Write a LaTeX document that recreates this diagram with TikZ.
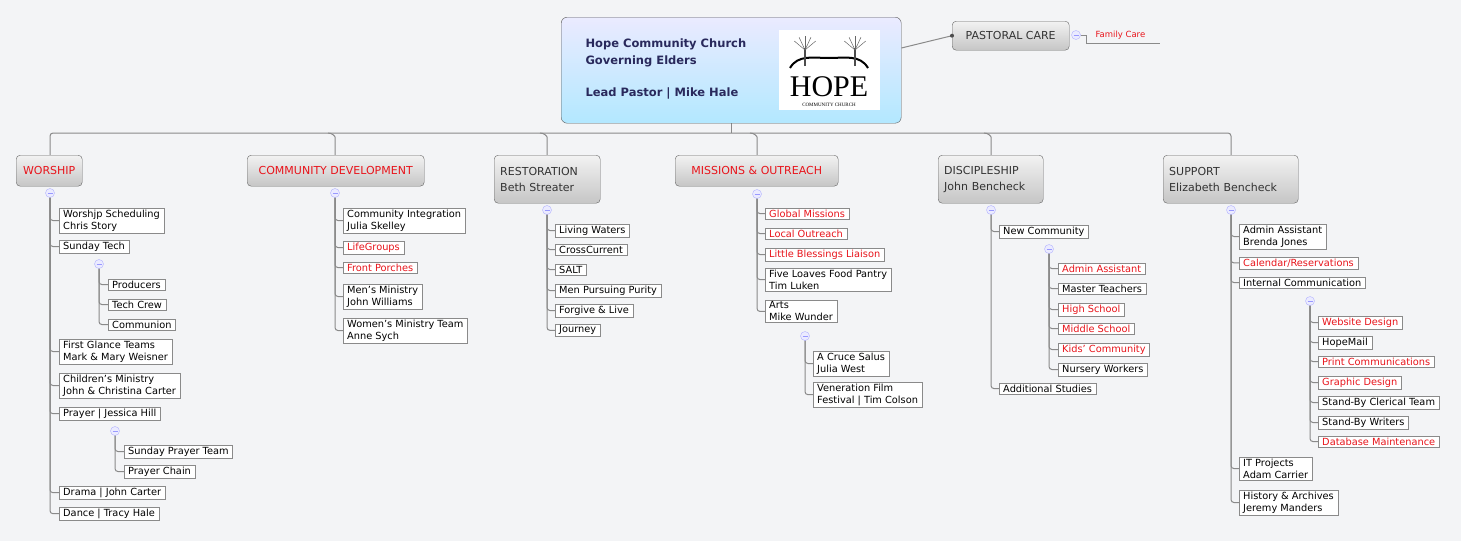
\documentclass[tikz,border=0pt]{standalone}
\usepackage{fontspec}
\setmainfont{DejaVu Sans}
\usetikzlibrary{calc}
\definecolor{bg}{HTML}{F3F4F6}
\definecolor{redt}{HTML}{E8141B}
\definecolor{dtx}{HTML}{333333}
\definecolor{lineg}{HTML}{8A8A8A}
\tikzset{
 leaf/.style={draw=lineg,fill=white,anchor=north west,align=left,font=\fontsize{9.8}{12}\selectfont,inner xsep=4pt,inner ysep=1.6pt,text=black},
 rleaf/.style={leaf,text=redt},
 cat/.style={draw=gray!80!black,rounded corners=4pt,top color=gray!10,bottom color=gray!45,anchor=north west,align=left,font=\fontsize{11}{16}\selectfont,inner sep=0pt,text=dtx,minimum height=31pt},
 rcat/.style={cat,text=redt},
 conn/.style={draw=lineg,line width=1pt,rounded corners=3pt},
 knob/.style={circle,draw=blue!30,fill=blue!8,inner sep=0pt,minimum size=9pt,path picture={\draw[blue!40] ($(path picture bounding box.center)+(-2.5pt,0)$)--++(5pt,0);}}
}
\newcommand\lf[4]{\node[leaf] (#1) at (#2,#3) {#4};}
\newcommand\lfr[4]{\node[rleaf] (#1) at (#2,#3) {#4};}
\begin{document}
\begin{tikzpicture}[x=1pt,y=-1pt]
\fill[bg] (0,0) rectangle (1461,541);
\useasboundingbox (0,0) rectangle (1461,541);
% bus
\draw[conn] (50,155) |- (731,133) -| (1231,155);
\foreach \x in {335,547,757,991} \draw[conn] (\x,155) -- (\x,140) to[out=90,in=0] (\x-7,133);
\draw[conn] (731,133) -- (731,123);
% root
\node[draw=gray!70!black,rounded corners=6pt,top color=blue!8,bottom color=blue!30!cyan!30,minimum width=340pt,minimum height=106pt,anchor=north west] (root) at (561,17) {};
\node[anchor=north west,align=left,font=\bfseries\fontsize{11.5}{17}\selectfont,text=dtx!80!blue] (rt) at (582,35) {Hope Community Church\\Governing Elders\\[15pt]Lead Pastor | Mike Hale};
\node[fill=white,minimum width=101pt,minimum height=80pt,anchor=north west] (logo) at (779,30) {};
\node[font=\fontsize{30}{30}\selectfont\rmfamily,anchor=south] (hope) at (829,100) {\fontspec{Liberation Serif}HOPE};
\node[font=\fontsize{5}{5}\selectfont,anchor=north] (cc) at (829,100) {\fontspec{Liberation Serif}COMMUNITY CHURCH};
\draw[black,line width=2pt] (790,68) to[out=60,in=180] (829,58) to[out=0,in=120] (868,68);
\foreach \tx in {805,855}{\draw[black!70,line width=1.3pt] (\tx,66)--(\tx,48);
 \foreach \a in {-50,-25,0,25,50}\draw[black!60,line width=0.5pt] (\tx,50)--++(90+\a:-14);}
% pastoral
\node[cat,minimum width=117pt,minimum height=29pt,align=center] (pc) at (952,21) {PASTORAL CARE};
\draw[lineg,line width=1pt] (root.east|-0,48) -- (pc.west);
\fill[gray!60!black] (pc.west) circle (2pt);
\node[knob] (pk) at (1076,35) {};
\node[anchor=west,font=\fontsize{8.5}{9}\selectfont,text=redt] (fc) at (1092,35) {Family Care};
\draw[lineg] (pk.east) -- ++(5,0) |- (1160,43) coordinate (fce);
% categories
\node[rcat,minimum width=66pt,align=center] (wor) at (16,155) {WORSHIP};
\node[rcat,minimum width=177pt,align=center] (cd) at (247,155) {COMMUNITY DEVELOPMENT};
\node[cat,minimum height=48pt,text width=94pt,inner xsep=6pt] (res) at (494,155) {RESTORATION\\Beth Streater};
\node[rcat,minimum width=163pt,align=center] (mis) at (675,155) {MISSIONS \& OUTREACH};
\node[cat,minimum height=48pt,text width=93pt,inner xsep=6pt] (dis) at (938,155) {DISCIPLESHIP\\John Bencheck};
\node[cat,minimum height=48pt,text width=123pt,inner xsep=6pt] (sup) at (1163,155) {SUPPORT\\Elizabeth Bencheck};
% worship
\lf{w1}{59}{208}{Worshjp Scheduling\\Chris Story}
\lf{w2}{59}{240}{Sunday Tech}
\lf{w21}{108}{279}{Producers}
\lf{w22}{108}{299}{Tech Crew}
\lf{w23}{108}{319}{Communion}
\lf{w3}{59}{339}{First Glance Teams\\Mark \& Mary Weisner}
\lf{w4}{59}{373}{Children's Ministry\\John \& Christina Carter}
\lf{w5}{59}{407}{Prayer | Jessica Hill}
\lf{w51}{124}{445}{Sunday Prayer Team}
\lf{w52}{124}{465}{Prayer Chain}
\lf{w6}{59}{486}{Drama | John Carter}
\lf{w7}{59}{507}{Dance | Tracy Hale}
\foreach \n in {w1,w2,w3,w4,w5,w6,w7} \draw[conn] (50,197) |- (\n.west);
\foreach \n in {w21,w22,w23} \draw[conn] (99,268) |- (\n.west);
\foreach \n in {w51,w52} \draw[conn] (115,435) |- (\n.west);
\node[knob] (kw) at (50,193) {};
\node[knob] (kw2) at (99,264) {};
\node[knob] (kw5) at (115,431) {};
% community dev
\lf{c1}{343}{208}{Community Integration\\Julia Skelley}
\lfr{c2}{343}{241}{LifeGroups}
\lfr{c3}{343}{262}{Front Porches}
\lf{c4}{343}{284}{Men's Ministry\\John Williams}
\lf{c5}{343}{318}{Women's Ministry Team\\Anne Sych}
\foreach \n in {c1,c2,c3,c4,c5} \draw[conn] (335,197) |- (\n.west);
\node[knob] (kc) at (335,193) {};
% restoration
\lf{r1}{555}{224}{Living Waters}
\lf{r2}{555}{244}{CrossCurrent}
\lf{r3}{555}{264}{SALT}
\lf{r4}{555}{284}{Men Pursuing Purity}
\lf{r5}{555}{304}{Forgive \& Live}
\lf{r6}{555}{324}{Journey}
\foreach \n in {r1,r2,r3,r4,r5,r6} \draw[conn] (547,214) |- (\n.west);
\node[knob] (kr) at (547,210) {};
% missions
\lfr{m1}{765}{208}{Global Missions}
\lfr{m2}{765}{228}{Local Outreach}
\lfr{m3}{765}{248}{Little Blessings Liaison}
\lf{m4}{765}{268}{Five Loaves Food Pantry\\Tim Luken}
\lf{m5}{765}{300}{Arts\\Mike Wunder}
\lf{m51}{813}{351}{A Cruce Salus\\Julia West}
\lf{m52}{813}{382}{Veneration Film\\Festival | Tim Colson}
\foreach \n in {m1,m2,m3,m4,m5} \draw[conn] (757,198) |- (\n.west);
\foreach \n in {m51,m52} \draw[conn] (805,340) |- (\n.west);
\node[knob] (km) at (757,194) {};
\node[knob] (km5) at (805,336) {};
% discipleship
\lf{d1}{999}{225}{New Community}
\lfr{d11}{1058}{263}{Admin Assistant}
\lf{d12}{1058}{283}{Master Teachers}
\lfr{d13}{1058}{303}{High School}
\lfr{d14}{1058}{323}{Middle School}
\lfr{d15}{1058}{343}{Kids' Community}
\lf{d16}{1058}{363}{Nursery Workers}
\lf{d2}{999}{383}{Additional Studies}
\foreach \n in {d1,d2} \draw[conn] (991,214) |- (\n.west);
\foreach \n in {d11,d12,d13,d14,d15,d16} \draw[conn] (1049,253) |- (\n.west);
\node[knob] (kd) at (991,210) {};
\node[knob] (kd1) at (1049,249) {};
% support
\lf{s1}{1239}{224}{Admin Assistant\\Brenda Jones}
\lfr{s2}{1239}{257}{Calendar/Reservations}
\lf{s3}{1239}{277}{Internal Communication}
\lfr{s31}{1318}{316}{Website Design}
\lf{s32}{1318}{336}{HopeMail}
\lfr{s33}{1318}{356}{Print Communications}
\lfr{s34}{1318}{376}{Graphic Design}
\lf{s35}{1318}{396}{Stand-By Clerical Team}
\lf{s36}{1318}{416}{Stand-By Writers}
\lfr{s37}{1318}{436}{Database Maintenance}
\lf{s4}{1239}{457}{IT Projects\\Adam Carrier}
\lf{s5}{1239}{490}{History \& Archives\\Jeremy Manders}
\foreach \n in {s1,s2,s3,s4,s5} \draw[conn] (1231,214) |- (\n.west);
\foreach \n in {s31,s32,s33,s34,s35,s36,s37} \draw[conn] (1310,305) |- (\n.west);
\node[knob] (ks) at (1231,210) {};
\node[knob] (ks3) at (1310,301) {};
\end{tikzpicture}
\end{document}
